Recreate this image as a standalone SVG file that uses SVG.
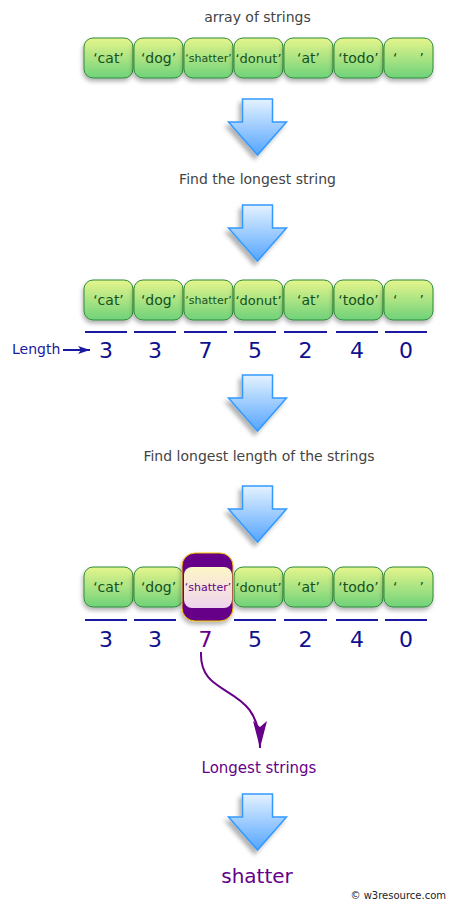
<svg xmlns="http://www.w3.org/2000/svg" width="455" height="908" viewBox="0 0 455 908">
<style>
.h{font-family:"DejaVu Sans",sans-serif;font-size:14px;fill:#444;text-anchor:middle}
.bx{fill:url(#gGreen);stroke:#2f8a3a;stroke-width:1;filter:url(#sh)}
.bt{font-family:"DejaVu Sans",sans-serif;font-size:14px;fill:#17501d;text-anchor:middle}
.sm{font-size:11px}
.ul{stroke:#1a1aa0;stroke-width:2}
.num{font-family:"DejaVu Sans",sans-serif;font-size:22px;fill:#10108c;text-anchor:middle}
.pur{fill:#660088}
.barrow{fill:url(#gBlue);stroke:#3399ff;stroke-width:1.5;filter:url(#sh2)}
</style>
<defs>
<linearGradient id="gGreen" x1="0" y1="0" x2="0" y2="1">
<stop offset="0" stop-color="#e6f58c"/>
<stop offset="1" stop-color="#6fd27a"/>
</linearGradient>
<linearGradient id="gPink" x1="0" y1="0" x2="0" y2="1">
<stop offset="0" stop-color="#fdf6c6"/>
<stop offset="1" stop-color="#efd3ef"/>
</linearGradient>
<linearGradient id="gBlue" x1="0" y1="0" x2="0" y2="1">
<stop offset="0" stop-color="#e4f2ff"/>
<stop offset="1" stop-color="#55a5ff"/>
</linearGradient>
<filter id="sh" x="-20%" y="-20%" width="140%" height="150%">
<feDropShadow dx="-1" dy="3" stdDeviation="2" flood-color="#000" flood-opacity="0.3"/>
</filter>
<filter id="sh2" x="-30%" y="-30%" width="160%" height="160%">
<feDropShadow dx="-3" dy="4" stdDeviation="2" flood-color="#000" flood-opacity="0.3"/>
</filter>
<path id="arr" d="M242.5,0 H272.5 V23 H286.5 L257.5,56 L228.5,23 H242.5 Z"/>
<marker id="mPur" viewBox="0 0 28 14" refX="27" refY="7" markerWidth="28" markerHeight="14" markerUnits="userSpaceOnUse" orient="auto">
<path d="M0,0 L6,7 L0,14 L27,7 Z" fill="#660088"/>
</marker>
<marker id="mBlue" viewBox="0 0 12 8" refX="12" refY="4" markerWidth="12" markerHeight="8" markerUnits="userSpaceOnUse" orient="auto">
<path d="M0,0 L12,4 L0,8 L3,4 Z" fill="#1a1aa0"/>
</marker>
</defs>
<rect width="455" height="908" fill="#fff"/>

<g id="labels">
<text class="h" x="257.5" y="22">array of strings</text>
<text class="h" x="257.5" y="184">Find the longest string</text>
<text class="h" x="259" y="461">Find longest length of the strings</text>
<text class="h pur" x="259" y="773" style="font-size:15px">Longest strings</text>
<text class="h pur" x="257" y="883" style="font-size:20px">shatter</text>
<text x="446" y="899" style="font-family:'DejaVu Sans',sans-serif;font-size:10px;fill:#222;text-anchor:end">© w3resource.com</text>
</g>

<g id="row1">
<rect class="bx" x="84" y="38" width="49" height="40" rx="9"/>
<rect class="bx" x="134" y="38" width="49" height="40" rx="9"/>
<rect class="bx" x="184" y="38" width="49" height="40" rx="9"/>
<rect class="bx" x="234" y="38" width="49" height="40" rx="9"/>
<rect class="bx" x="284" y="38" width="49" height="40" rx="9"/>
<rect class="bx" x="334" y="38" width="49" height="40" rx="9"/>
<rect class="bx" x="384" y="38" width="49" height="40" rx="9"/>
<text class="bt" x="108.5" y="63">‘cat’</text>
<text class="bt" x="158.5" y="63">‘dog’</text>
<text class="bt sm" x="208.5" y="62">‘shatter’</text>
<text class="bt" x="258.5" y="63" style="font-size:13px">‘donut’</text>
<text class="bt" x="308.5" y="63">‘at’</text>
<text class="bt" x="358.5" y="63">‘todo’</text>
<text class="bt" x="408.5" y="63">‘&#160;&#160;&#160;&#160;&#160;’</text>
</g>

<g id="row2">
<rect class="bx" x="84" y="280" width="49" height="40" rx="9"/>
<rect class="bx" x="134" y="280" width="49" height="40" rx="9"/>
<rect class="bx" x="184" y="280" width="49" height="40" rx="9"/>
<rect class="bx" x="234" y="280" width="49" height="40" rx="9"/>
<rect class="bx" x="284" y="280" width="49" height="40" rx="9"/>
<rect class="bx" x="334" y="280" width="49" height="40" rx="9"/>
<rect class="bx" x="384" y="280" width="49" height="40" rx="9"/>
<text class="bt" x="108.5" y="305">‘cat’</text>
<text class="bt" x="158.5" y="305">‘dog’</text>
<text class="bt sm" x="208.5" y="304">‘shatter’</text>
<text class="bt" x="258.5" y="305" style="font-size:13px">‘donut’</text>
<text class="bt" x="308.5" y="305">‘at’</text>
<text class="bt" x="358.5" y="305">‘todo’</text>
<text class="bt" x="408.5" y="305">‘&#160;&#160;&#160;&#160;&#160;’</text>
</g>

<g id="lengths2">
<line class="ul" x1="85" y1="332" x2="127" y2="332"/>
<line class="ul" x1="134" y1="332" x2="176" y2="332"/>
<line class="ul" x1="184" y1="332" x2="227" y2="332"/>
<line class="ul" x1="234" y1="332" x2="276" y2="332"/>
<line class="ul" x1="284" y1="332" x2="327" y2="332"/>
<line class="ul" x1="336" y1="332" x2="378" y2="332"/>
<line class="ul" x1="385" y1="332" x2="427" y2="332"/>
<text class="num" x="106" y="358">3</text>
<text class="num" x="155" y="358">3</text>
<text class="num" x="205.5" y="358">7</text>
<text class="num" x="255" y="358">5</text>
<text class="num" x="305.5" y="358">2</text>
<text class="num" x="357" y="358">4</text>
<text class="num" x="406" y="358">0</text>
</g>

<g id="length-label">
<text x="12" y="354" style="font-family:'DejaVu Sans',sans-serif;font-size:14px;fill:#1a1aa0">Length</text>
</g>

<g id="row3">
<rect class="bx" x="84" y="567" width="49" height="40" rx="9"/>
<rect class="bx" x="134" y="567" width="49" height="40" rx="9"/>
<rect class="bx" x="234" y="567" width="49" height="40" rx="9"/>
<rect class="bx" x="284" y="567" width="49" height="40" rx="9"/>
<rect class="bx" x="334" y="567" width="49" height="40" rx="9"/>
<rect class="bx" x="384" y="567" width="49" height="40" rx="9"/>
<text class="bt" x="108.5" y="592">‘cat’</text>
<text class="bt" x="158.5" y="592">‘dog’</text>
<text class="bt" x="258.5" y="592" style="font-size:13px">‘donut’</text>
<text class="bt" x="308.5" y="592">‘at’</text>
<text class="bt" x="358.5" y="592">‘todo’</text>
<text class="bt" x="408.5" y="592">‘&#160;&#160;&#160;&#160;&#160;’</text>
</g>

<g id="highlight">
<rect x="182" y="553" width="51" height="68" rx="13" fill="#660088" stroke="#f2c200" stroke-width="1" filter="url(#sh)"/>
<rect x="184" y="567" width="48" height="41" rx="8" fill="url(#gPink)"/>
<text class="bt sm" x="208" y="591" style="fill:#660088">‘shatter’</text>
</g>

<g id="lengths3">
<line class="ul" x1="85" y1="620" x2="127" y2="620"/>
<line class="ul" x1="134" y1="620" x2="176" y2="620"/>
<line class="ul" x1="234" y1="620" x2="276" y2="620"/>
<line class="ul" x1="284" y1="620" x2="327" y2="620"/>
<line class="ul" x1="336" y1="620" x2="378" y2="620"/>
<line class="ul" x1="385" y1="620" x2="427" y2="620"/>
<text class="num" x="106" y="647">3</text>
<text class="num" x="155" y="647">3</text>
<text class="num" x="205.5" y="647" style="fill:#660088">7</text>
<text class="num" x="255" y="647">5</text>
<text class="num" x="305.5" y="647">2</text>
<text class="num" x="357" y="647">4</text>
<text class="num" x="406" y="647">0</text>
</g>

<g id="connectors">
<use href="#arr" class="barrow" transform="translate(0,99)"/>
<use href="#arr" class="barrow" transform="translate(0,205)"/>
<use href="#arr" class="barrow" transform="translate(0,375)"/>
<use href="#arr" class="barrow" transform="translate(0,486)"/>
<use href="#arr" class="barrow" transform="translate(0,794)"/>
<line x1="63" y1="350" x2="90" y2="350" stroke="#1a1aa0" stroke-width="2" marker-end="url(#mBlue)"/>
<path d="M201,652 C199,702 260,680 260,748" fill="none" stroke="#660088" stroke-width="2" marker-end="url(#mPur)"/>
</g>
</svg>
